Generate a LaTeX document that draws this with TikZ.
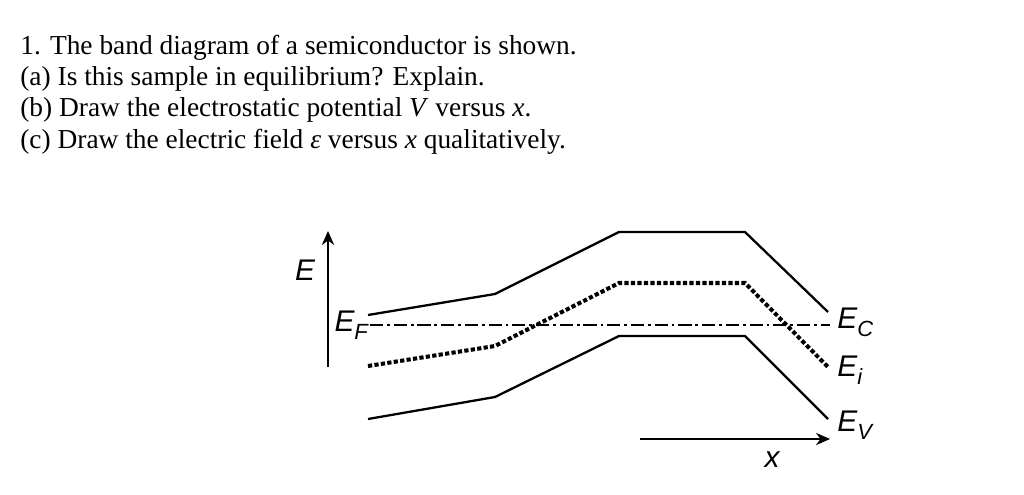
\documentclass[tikz,border=0pt]{standalone}
\usepackage{fontspec}
\setmainfont{Liberation Serif}
\setsansfont{Liberation Sans}
\usepackage{tikz}
\usetikzlibrary{calc, arrows.meta, positioning}

\begin{document}
\begin{tikzpicture}[x=0.02cm, y=-0.02cm,
    band/.style={line width=1.3pt},
    mid/.style={line width=2.3pt, dash pattern=on 2.4pt off 1.3pt},
    fermi/.style={line width=1.4pt, dash pattern=on 7.5pt off 2.2pt on 1.6pt off 2.2pt},
    axis/.style={-{Stealth[length=8pt, width=7pt]}, line width=0.9pt},
    lbl/.style={font=\sffamily\itshape\fontsize{17}{19}\selectfont, inner sep=0pt},
    txt/.style={anchor=base west, inner sep=0pt, font=\fontsize{15.6}{18}\selectfont}]
    \useasboundingbox (0,0) rectangle (1024,494);
    % question text
    \node[txt] (q1) at (20,54) {1. The band diagram of a semiconductor is shown.};
    \node[txt] (q2) at (20,85) {(a) Is this sample in equilibrium? Explain.};
    \node[txt] (q3) at (20,116) {(b) Draw the electrostatic potential \textit{V} versus \textit{x}.};
    \node[txt] (q4) at (20,148) {(c) Draw the electric field \textit{ε} versus \textit{x} qualitatively.};
    % axes
    \coordinate (e0) at (328,367);
    \coordinate (e1) at (328,231);
    \coordinate (x0) at (640,439);
    \coordinate (x1) at (830,439);
    \draw[axis] (e0) -- (e1);
    \draw[axis] (x0) -- (x1);
    \node[lbl] (elbl) at (305,270) {E};
    \node[lbl] (xlbl) at (772,460) {x};
    % bands
    \draw[band] (368,315) coordinate (c0) -- (495,294) -- (619,232) -- (745,232) -- (828,312) coordinate (c1);
    \draw[mid] (368,366) coordinate (i0) -- (495,346) -- (619,283) -- (745,283) -- (828,367) coordinate (i1);
    \draw[band] (368,419) coordinate (v0) -- (495,397) -- (619,336) -- (745,336) -- (828,419) coordinate (v1);
    \coordinate (f0) at (370,325);
    \coordinate (f1) at (830,325);
    \draw[fermi] (f0) -- (f1);
    % labels
    \node[lbl, left=1pt of f0] (ef) {E\raisebox{-0.5ex}{\fontsize{12.5}{13}\selectfont F}};
    \node[lbl, anchor=west] (ec) at (837,322) {E\raisebox{-0.5ex}{\fontsize{12.5}{13}\selectfont C}};
    \node[lbl, anchor=west] (ei) at (837,370) {E\raisebox{-0.5ex}{\fontsize{12.5}{13}\selectfont i}};
    \node[lbl, anchor=west] (ev) at (837,425) {E\raisebox{-0.5ex}{\fontsize{12.5}{13}\selectfont V}};
\end{tikzpicture}
\end{document}
